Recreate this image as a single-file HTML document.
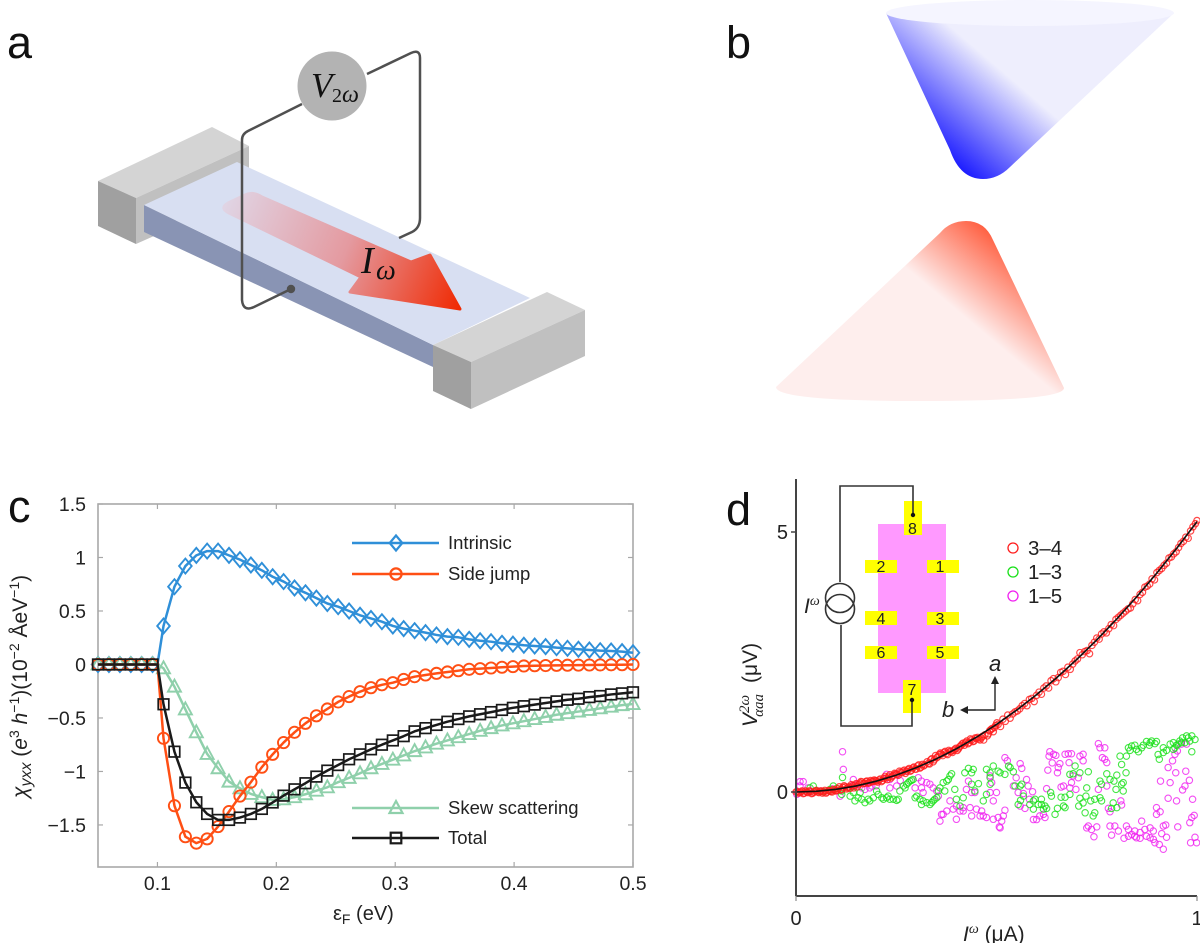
<!DOCTYPE html>
<html lang="en">
<head>
<meta charset="utf-8">
<title>Nonlinear Hall figure</title>
<style>
html,body{margin:0;padding:0;background:#fff;width:1200px;height:943px;overflow:hidden}
svg{display:block;font-family:"Liberation Sans",sans-serif}
</style>
</head>
<body>
<svg id="figure" xmlns="http://www.w3.org/2000/svg" width="1200" height="943" viewBox="0 0 1200 943">
<defs>
<linearGradient id="arrowGrad" gradientUnits="userSpaceOnUse" x1="225" y1="205" x2="463" y2="305">
<stop offset="0" stop-color="#e0d4e4"/><stop offset="0.5" stop-color="#e49aa0"/><stop offset="1" stop-color="#f02800"/>
</linearGradient>
<linearGradient id="blueGrad" gradientUnits="userSpaceOnUse" x1="970" y1="177" x2="1036" y2="100">
<stop offset="0" stop-color="#1e1eff"/><stop offset="1" stop-color="#eeeefd"/>
</linearGradient>
<linearGradient id="redGrad" gradientUnits="userSpaceOnUse" x1="987" y1="230" x2="935" y2="292">
<stop offset="0" stop-color="#ff6244"/><stop offset="1" stop-color="#feeeed"/>
</linearGradient>
</defs>

<!-- panel letters -->
<text x="7" y="58" font-size="45" fill="#111">a</text>
<text x="726" y="58" font-size="45" fill="#111">b</text>
<text x="8" y="522" font-size="45" fill="#111">c</text>
<text x="726" y="525" font-size="45" fill="#111">d</text>

<!-- panel a -->
<g>
<polygon points="98,181 212,127 249,146 136,198" fill="#d4d4d4"/>
<polygon points="98,181 136,198 136,244 98,226" fill="#a0a0a0"/>
<polygon points="136,198 249,146 249,170 154,236 136,244" fill="#c0c0c0"/>
<polygon points="144,205 433,345 433,367 144,232" fill="#8994b4"/>
<polygon points="144,205 237,162 530,298 433,345" fill="#d8dff2"/>
<path d="M262 197 Q253 191 245 195 L228 203 Q219 208 229 213 L361 277 L350 292 L460 309 L430 255 L411 262 Z" fill="url(#arrowGrad)" stroke="url(#arrowGrad)" stroke-width="3" stroke-linejoin="round"/>
<polygon points="433,345 547,292 585,310 471,362" fill="#d4d4d4"/>
<polygon points="433,345 471,362 471,409 433,391" fill="#a0a0a0"/>
<polygon points="471,362 585,310 585,356 471,409" fill="#c0c0c0"/>
<path d="M291 289 L254 307 Q243 312 242 300 L242 140 Q242 134 248 131 L302 104" fill="none" stroke="#505050" stroke-width="2.5"/>
<path d="M367 74 L411 53 Q420 49 420 58 L420 218 Q420 228 412 232 L399 238" fill="none" stroke="#505050" stroke-width="2.5"/>
<circle cx="291" cy="289" r="4.2" fill="#505050"/>
<circle cx="332" cy="86" r="34.5" fill="#b3b3b3"/>
<text font-family="Liberation Serif, serif" fill="#111"><tspan x="311" y="97" font-size="35" font-style="italic">V</tspan><tspan x="332" y="102" font-size="20">2</tspan><tspan font-size="24" font-style="italic" dy="0">ω</tspan></text>
<text font-family="Liberation Serif, serif" fill="#111"><tspan x="361" y="273" font-size="38" font-style="italic">I</tspan><tspan x="376" y="279" font-size="28" font-style="italic">ω</tspan></text>
</g>

<!-- panel b -->
<g>
<path d="M886 13 L950 150 Q960 179 983 179 Q998 179 1010 167 L1174 13 Z" fill="url(#blueGrad)"/>
<ellipse cx="1030" cy="13" rx="144" ry="13" fill="#f5f5ff"/>
<path d="M776 387 Q776 401 920 401 Q1064 401 1064 388 L993 240 Q985 221 966 221 Q950 221 940 233 Z" fill="url(#redGrad)"/>
</g>

<!-- panel c -->
<g id="chartC">
<rect x="98" y="504" width="535" height="363" fill="none" stroke="#a8a8a8" stroke-width="1.6"/>
<g id="cTicks"></g>
<g id="cSeries"></g>
<g id="cLegend"></g>
<text transform="translate(27,798) rotate(-90)" font-size="21" fill="#222"><tspan font-style="italic">χ</tspan><tspan font-style="italic" font-size="16" dy="4">yxx</tspan><tspan dy="-4"> (</tspan><tspan font-style="italic">e</tspan><tspan font-size="14" dy="-8">3</tspan><tspan dy="8"> </tspan><tspan font-style="italic">h</tspan><tspan font-size="14" dy="-8">−1</tspan><tspan dy="8">)(10</tspan><tspan font-size="14" dy="-8">−2</tspan><tspan dy="8"> ÅeV</tspan><tspan font-size="14" dy="-8">−1</tspan><tspan dy="8">)</tspan></text>
<text x="333" y="920" font-size="20" fill="#222"><tspan>ε</tspan><tspan font-size="14" dy="4">F</tspan><tspan dy="-4"> (eV)</tspan></text>
</g>

<!-- panel d -->
<g id="chartD">
<g id="dMarks"></g>
<path d="M796 479 V896" stroke="#444" stroke-width="2" fill="none"/>
<path d="M796 896 H1197" stroke="#444" stroke-width="2" fill="none"/>
<g id="dTicks"></g>
<text transform="translate(757,727) rotate(-90)" font-size="21" fill="#222"><tspan font-style="italic">V</tspan><tspan font-family="Liberation Serif, serif" font-style="italic" font-size="15" dy="-8">2ω</tspan><tspan font-family="Liberation Serif, serif" font-style="italic" font-size="15" dx="-22" dy="14">αaa</tspan><tspan dx="11" dy="-6">(μV)</tspan></text>
<text x="963" y="941" font-size="21" fill="#222"><tspan font-style="italic">I</tspan><tspan font-family="Liberation Serif, serif" font-style="italic" font-size="14" dy="-8">ω</tspan><tspan dy="8"> (μA)</tspan></text>

<g>
<rect x="878" y="524" width="68" height="169" fill="#ff99ff"/>
<rect x="904" y="501" width="18" height="34" fill="#ffff00"/>
<rect x="903" y="680" width="18" height="33" fill="#ffff00"/>
<rect x="865" y="560" width="32" height="13" fill="#ffff00"/>
<rect x="927" y="560" width="32" height="13" fill="#ffff00"/>
<rect x="865" y="611" width="32" height="14" fill="#ffff00"/>
<rect x="927" y="612" width="32" height="13" fill="#ffff00"/>
<rect x="865" y="646" width="32" height="13" fill="#ffff00"/>
<rect x="927" y="646" width="32" height="13" fill="#ffff00"/>
<g font-size="16" fill="#222" text-anchor="middle">
<text x="912.5" y="534">8</text>
<text x="912" y="695">7</text>
<text x="881" y="572">2</text>
<text x="940" y="572">1</text>
<text x="881" y="624">4</text>
<text x="940" y="624">3</text>
<text x="881" y="658">6</text>
<text x="940" y="658">5</text>
</g>
<path d="M840 582 V486 H913 V515" fill="none" stroke="#333" stroke-width="1.6"/>
<path d="M841 625 V726 H912 V700" fill="none" stroke="#333" stroke-width="1.6"/>
<circle cx="913" cy="515" r="2.2" fill="#111"/>
<circle cx="912" cy="700" r="2.2" fill="#111"/>
<circle cx="840" cy="598" r="14.5" fill="none" stroke="#333" stroke-width="1.6"/>
<circle cx="840" cy="609" r="14.5" fill="none" stroke="#333" stroke-width="1.6"/>
<text x="804" y="613" font-size="21" fill="#222"><tspan font-style="italic">I</tspan><tspan font-family="Liberation Serif, serif" font-style="italic" font-size="14" dy="-8">ω</tspan></text>
<path d="M995 681 V710 H965" fill="none" stroke="#222" stroke-width="1.4"/>
<polygon points="995,676 991,684 999,684" fill="#222"/>
<polygon points="960,710 968,706 968,714" fill="#222"/>
<text x="989" y="671" font-size="22" font-style="italic" fill="#222">a</text>
<text x="942" y="717" font-size="22" font-style="italic" fill="#222">b</text>
</g>
<g id="dLegend"></g>
</g>
</svg>
<script>
// ---- panel c data ----
const fermiEnergy = [.05,.0592,.0684,.0776,.0867,.0959,.1051,.1143,.1235,.1327,.1418,.1510,.1602,.1694,.1786,.1878,.1969,.2061,.2153,.2245,.2337,.2429,.2520,.2612,.2704,.2796,.2888,.2980,.3071,.3163,.3255,.3347,.3439,.3531,.3622,.3714,.3806,.3898,.3990,.4082,.4173,.4265,.4357,.4449,.4541,.4633,.4724,.4816,.4908,.5];
const gapEdge = [0.1, 0];
const intrinsic = [0,0,0,0,0,0,.36,.727,.92,1.02,1.06,1.06,1.02,.98,.93,.88,.82,.775,.715,.67,.62,.57,.54,.50,.46,.43,.40,.36,.335,.316,.298,.276,.26,.254,.235,.222,.213,.198,.19,.18,.173,.167,.157,.151,.142,.135,.129,.126,.12,.11];
const sideJump = [0,0,0,0,0,0,-.69,-1.32,-1.61,-1.67,-1.63,-1.515,-1.375,-1.23,-1.10,-.96,-.84,-.73,-.634,-.55,-.48,-.416,-.35,-.30,-.254,-.217,-.19,-.17,-.14,-.114,-.098,-.083,-.07,-.058,-.045,-.039,-.033,-.026,-.02,-.014,-.012,-.01,-.008,-.007,-.006,-.005,-.004,-.003,-.002,0];
const skewScattering = [0,0,0,0,0,0,-.036,-.207,-.42,-.634,-.836,-.97,-1.095,-1.157,-1.21,-1.24,-1.266,-1.26,-1.24,-1.213,-1.18,-1.148,-1.10,-1.06,-1.017,-.97,-.93,-.89,-.85,-.81,-.775,-.74,-.71,-.68,-.65,-.62,-.595,-.57,-.55,-.53,-.51,-.49,-.47,-.455,-.44,-.425,-.41,-.395,-.38,-.37];
const totalResponse = [0,0,0,0,0,0,-.372,-.815,-1.104,-1.288,-1.397,-1.453,-1.453,-1.431,-1.397,-1.35,-1.29,-1.226,-1.167,-1.11,-1.048,-.992,-.94,-.886,-.84,-.793,-.75,-.71,-.67,-.625,-.595,-.565,-.535,-.51,-.485,-.465,-.445,-.425,-.405,-.39,-.375,-.36,-.345,-.33,-.32,-.305,-.295,-.28,-.27,-.26];
const cXTicks = [0.1,0.2,0.3,0.4,0.5];
const cYTicks = [1.5,1,0.5,0,-0.5,-1,-1.5];
const cYLabels = ["1.5","1","0.5","0","−0.5","−1","−1.5"];
const cXDomain = [0.05,0.5];
const cYDomain = [-1.893,1.5];

// ---- panel d data ----
const dXTicks = [0,1];
const dYTicks = [0,5];
const dXDomain = [0,1];
const dYDomain = [-2,6];
const fitCurrent = [0,.05,.1,.15,.2,.25,.3,.35,.4,.45,.5,.55,.6,.65,.7,.75,.8,.85,.9,.95,1];
const fitVoltage = [0,.013,.052,.117,.208,.325,.468,.637,.832,1.053,1.3,1.573,1.872,2.197,2.548,2.925,3.328,3.757,4.212,4.693,5.2];
const pair15 = [[.116,.775],[.118,.435],[.01,.2],[.018,.2],[.01,.115],[.002,-.045],[.143,.24],[.143,.115],[.164,.08],[.172,.05],[.184,.08],[.189,.115],[.226,.34],[.234,.24],[.251,.34],[.276,.40],[.305,.275],[.313,.21],[.326,.18],[.334,.15],[.342,.08],[.351,.02],[.355,-.08],[.11,-.08],[.317,-.01],[.313,.08],[.297,.08],[.234,.08],[.251,.115],[.384,-.17],[.376,-.365],[.367,-.43],[.359,-.56],[.363,-.43],[.4,-.27],[.409,-.365],[.417,-.365],[.392,-.33],[.4,-.525],[.417,-.30],[.43,.21],[.425,.05],[.446,-.01],[.438,-.01],[.434,-.30],[.438,-.46],[.45,-.33],[.463,-.365],[.467,-.46],[.459,-.46],[.475,-.49],[.492,-.525],[.504,-.49],[.507,-.67],[.484,-.01],[.492,-.17],[.5,-.01],[.488,.18],[.484,.31],[.521,.66],[.527,.60],[.559,.545],[.563,.455],[.549,.275],[.542,.115],[.575,.24],[.579,.115],[.59,.006],[.567,-.03],[.554,-.01],[.582,-.14],[.571,-.315],[.559,-.27],[.521,-.35],[.517,-.46],[.513,-.56],[.509,-.69],[.592,-.53],[.6,-.53],[.608,-.46],[.621,-.49],[.617,-.43],[.633,.775],[.642,.725],[.648,.705],[.631,.69],[.639,.56],[.658,.545],[.654,.47],[.628,.42],[.652,.37],[.671,.725],[.679,.735],[.687,.735],[.681,.565],[.708,.69],[.716,.725],[.716,.60],[.754,.93],[.758,.85],[.77,.85],[.764,.66],[.775,.565],[.77,.63],[.667,.115],[.661,.095],[.683,.08],[.698,.05],[.704,.275],[.687,.18],[.691,.31],[.625,.064],[.754,.05],[.775,.115],[.81,-.17],[.812,-.25],[.779,-.315],[.783,-.38],[.729,-.655],[.737,-.72],[.725,-.69],[.75,-.67],[.743,-.86],[.783,-.655],[.795,-.655],[.787,-.83],[.804,-.75],[.824,-.655],[.829,-.72],[.845,-.75],[.858,-.78],[.87,-.72],[.818,-.89],[.829,-.85],[.837,-.815],[.849,-.88],[.858,-.89],[.845,-.85],[.874,-.85],[.883,-.88],[.895,-.975],[.891,-.91],[.906,-1.01],[.916,-1.10],[.912,-.80],[.924,-.87],[.916,-.655],[.922,-.635],[.899,-.30],[.899,-.43],[.908,-.38],[.862,-.56],[.952,-.67],[.928,-.12],[.949,-.17],[.989,-.14],[.964,.04],[.97,.115],[.981,.225],[.987,-.49],[.993,-.45],[.982,-.59],[.995,-.87],[.984,-.975],[.999,-.975],[.909,.21],[.933,.18],[.947,.37],[.972,.40],[.928,.47],[.939,.60],[.945,.725],[.951,.79],[.961,.92],[.974,.92],[.883,-.69],[.891,-.75],[.03,.08],[.06,.02],[.09,.06],[.2,.12],[.26,.22]];
const pair13 = [[.035,.08],[.043,.115],[.051,.02],[.068,.01],[.085,.05],[.093,.115],[.101,.07],[.114,.02],[.116,.28],[.114,-.045],[.143,-.01],[.147,-.17],[.155,-.11],[.16,-.01],[.172,-.205],[.184,-.17],[.193,-.11],[.201,.02],[.214,-.11],[.218,-.14],[.23,-.08],[.243,-.14],[.255,-.14],[.259,.02],[.268,.115],[.276,.15],[.284,.21],[.292,.24],[.297,-.11],[.309,-.14],[.313,-.24],[.326,-.205],[.334,-.24],[.342,-.17],[.351,-.11],[.355,.02],[.367,.18],[.376,.21],[.384,.31],[.388,.35],[.371,.02],[.396,.05],[.417,-.11],[.409,-.27],[.4,-.14],[.421,.37],[.43,.455],[.442,.435],[.438,.37],[.438,.15],[.446,.02],[.455,.16],[.467,-.17],[.475,.435],[.484,.37],[.492,.5],[.504,.40],[.484,.275],[.475,-.045],[.484,.15],[.135,-.08],[.164,-.14],[.18,-.14],[.205,-.045],[.226,-.11],[.234,-.14],[.251,-.16],[.272,.08],[.28,.18],[.288,.225],[.301,-.08],[.317,-.17],[.338,-.205],[.346,-.14],[.359,.08],[.38,.24],[.829,.85],[.837,.885],[.845,.90],[.833,.80],[.854,.775],[.862,.85],[.866,.90],[.874,.97],[.881,.90],[.887,.98],[.895,.93],[.899,.97],[.916,.76],[.924,.80],[.916,.85],[.933,.92],[.941,.95],[.949,.90],[.957,.98],[.964,1.04],[.97,.95],[.978,1.04],[.987,1.08],[.995,1.01],[.987,.775],[.906,.63],[.808,.69],[.824,.69],[.812,.53],[.823,.37],[.8,.325],[.775,.35],[.758,.21],[.783,.24],[.793,.21],[.816,.18],[.812,.15],[.798,.05],[.816,.02],[.762,.15],[.758,-.11],[.762,-.17],[.745,-.14],[.725,.08],[.723,-.08],[.708,-.12],[.705,-.27],[.716,-.21],[.735,-.17],[.791,-.21],[.8,-.30],[.787,-.315],[.721,-.40],[.745,-.40],[.741,-.46],[.671,-.10],[.661,-.10],[.683,-.045],[.635,-.01],[.637,-.08],[.671,-.30],[.667,-.27],[.652,-.315],[.646,-.43],[.625,-.315],[.612,-.14],[.612,-.24],[.621,-.27],[.596,-.14],[.604,-.24],[.592,-.33],[.56,-.16],[.554,-.24],[.567,-.08],[.559,.115],[.546,.115],[.563,.15],[.521,.34],[.509,.37],[.53,.50],[.534,.47],[.542,.39],[.683,.34],[.696,.50],[.708,.37],[.729,.39],[.691,.35],[.849,.82],[.883,.95],[.945,.85],[.953,.92],[.961,.95],[.974,1.08],[.982,.98],[.941,.82],[.903,.72],[.583,-.24],[.592,-.17],[.617,-.33]];
const pair34 = [[0,0],[.006,-.02],[.012,0],[.018,-.03],[.024,.02],[.03,-.01],[.036,.01],[.042,-.02],[.048,.02],[.054,0],[.06,.01],[.066,-.02],[.072,.03],[.078,0],[.084,.02],[.09,0],[.096,.04],[.102,.03],[.108,.1],[.114,.05],[.12,.12],[.126,.06],[.132,.1],[.138,.14],[.144,.08],[.15,.16],[.156,.14],[.162,.2],[.168,.16],[.174,.2],[.18,.17],[.186,.22],[.192,.2],[.198,.22],[.204,.19],[.21,.25],[.216,.22],[.222,.3],[.228,.24],[.234,.33],[.24,.3],[.246,.36],[.252,.34],[.258,.4],[.264,.37],[.27,.42],[.276,.4],[.282,.45],[.288,.42],[.294,.48],[.3,.44],[.306,.52],[.312,.48],[.318,.5],[.33,.55],[.336,.62],[.342,.58],[.348,.7],[.354,.68],[.36,.75],[.366,.7],[.372,.78],[.378,.72],[.384,.78],[.39,.76],[.396,.82],[.402,.8],[.408,.87],[.414,.92],[.42,.9],[.426,.98],[.432,.95],[.438,1],[.444,.98],[.45,1.03],[.456,1.02],[.462,1.04],[.468,1],[.48,1.12],[.486,1.2],[.492,1.16],[.498,1.28],[.504,1.3],[.51,1.26],[.516,1.4],[.522,1.36],[.528,1.48],[.534,1.42],[.54,1.5],[.546,1.54],[.552,1.56],[.558,1.6],[.564,1.66],[.57,1.7],[.576,1.66],[.582,1.78],[.588,1.8],[.594,1.74],[.6,1.86],[.606,1.92],[.612,1.88],[.618,2],[.624,2.04],[.63,2],[.636,2.14],[.642,2.18],[.648,2.12],[.654,2.2],[.66,2.3],[.666,2.32],[.672,2.26],[.678,2.4],[.684,2.36],[.69,2.46],[.696,2.52],[.702,2.56],[.708,2.68],[.714,2.64],[.72,2.7],[.726,2.72],[.732,2.66],[.738,2.82],[.744,2.88],[.75,2.96],[.756,2.94],[.762,3.04],[.768,3.08],[.774,3.06],[.78,3.14],[.786,3.22],[.792,3.2],[.798,3.32],[.804,3.36],[.81,3.4],[.816,3.44],[.822,3.48],[.828,3.52],[.834,3.54],[.84,3.62],[.846,3.7],[.852,3.68],[.858,3.8],[.864,3.84],[.87,3.94],[.876,3.96],[.882,4],[.888,4.1],[.894,4.08],[.9,4.22],[.906,4.26],[.912,4.3],[.918,4.36],[.924,4.4],[.93,4.5],[.936,4.52],[.942,4.58],[.948,4.62],[.954,4.7],[.96,4.78],[.966,4.82],[.972,4.9],[.978,4.88],[.984,5.02],[.99,5.1],[.996,5.16],[1,5.22],
[.003,.01],[.009,-.01],[.015,.02],[.021,-.02],[.027,0],[.033,.02],[.039,-.03],[.045,0],[.051,.03],[.057,-.01],[.063,.02],[.069,0],[.075,-.02],[.081,.03],[.087,.01],[.093,.05],[.099,.02],[.105,.06],[.111,.04],[.117,.09],[.123,.1],[.129,.08],[.135,.07],[.141,.12],[.147,.13],[.153,.1],[.159,.17],[.165,.19],[.171,.17],[.177,.21],[.183,.18],[.189,.2],[.195,.23],[.201,.21],[.207,.23],[.213,.2],[.219,.26],[.225,.27],[.231,.29],[.237,.27],[.243,.32],[.249,.35],[.255,.32],[.261,.38],[.267,.4],[.273,.36],[.279,.43],[.285,.4],[.291,.46],[.297,.44],[.303,.5],[.309,.46],[.315,.53],[.321,.52],[.327,.58],[.333,.54],[.339,.64],[.345,.62],[.351,.66],[.357,.72],[.363,.73],[.369,.76],[.375,.74],[.381,.8],[.387,.78],[.393,.8],[.399,.84],[.405,.83],[.411,.89],[.417,.94],[.423,.95],[.429,.93],[.435,1.02],[.441,.97],[.447,1.04],[.453,1.05],[.459,1],[.465,1.07],[.471,1.1],[.477,1.08],[.483,1.18],[.489,1.22],[.495,1.24],[.501,1.33]];

const NS = 'http://www.w3.org/2000/svg';
function make(parent, tag, attrs, text) {
  const el = document.createElementNS(NS, tag);
  for (const k in attrs) el.setAttribute(k, attrs[k]);
  if (text !== undefined) el.textContent = text;
  parent.appendChild(el);
  return el;
}
function scale(domain, a, b) {
  return v => a + (v - domain[0]) / (domain[1] - domain[0]) * (b - a);
}
const cX = scale(cXDomain, 98, 633);
const cY = scale(cYDomain, 867, 504);
const dX = scale(dXDomain, 796, 1197);
const dY = scale(dYDomain, 896, 480);

function drawMarker(g, shape, x, y, color, sw) {
  if (shape === 'diamond') return make(g, 'polygon', {points: `${x},${y-7.5} ${x+6.3},${y} ${x},${y+7.5} ${x-6.3},${y}`, fill:'none', stroke:color, 'stroke-width':sw});
  if (shape === 'circle') return make(g, 'circle', {cx:x, cy:y, r:5.6, fill:'none', stroke:color, 'stroke-width':sw});
  if (shape === 'triangle') return make(g, 'polygon', {points: `${x},${y-7} ${x+6.5},${y+5} ${x-6.5},${y+5}`, fill:'none', stroke:color, 'stroke-width':sw});
  return make(g, 'rect', {x:x-5.3, y:y-5.3, width:10.6, height:10.6, fill:'none', stroke:color, 'stroke-width':sw});
}

// axes panel c
const cAxes = document.getElementById('cTicks');
cXTicks.forEach((t, i) => {
  const x = cX(t);
  const tb = make(cAxes, 'line', {x1:x, x2:x, y1:867, y2:862, stroke:'#a8a8a8', 'stroke-width':1.2});
  
  
  const tt = make(cAxes, 'line', {x1:x, x2:x, y1:504, y2:509, stroke:'#a8a8a8', 'stroke-width':1.2});
  
  
  const lb = make(cAxes, 'text', {x:x, y:890, 'font-size':19.5, fill:'#222', 'text-anchor':'middle'}, t.toFixed(1));
  
  
});
cYTicks.forEach((t, i) => {
  const y = cY(t);
  const tl = make(cAxes, 'line', {x1:98, x2:103, y1:y, y2:y, stroke:'#a8a8a8', 'stroke-width':1.2});
  
  
  const tr = make(cAxes, 'line', {x1:633, x2:628, y1:y, y2:y, stroke:'#a8a8a8', 'stroke-width':1.2});
  
  
  const lb = make(cAxes, 'text', {x:86, y:y+7, 'font-size':19.5, fill:'#222', 'text-anchor':'end'}, cYLabels[i]);
  
  
});

// series panel c
const cRoot = document.getElementById('cSeries');
function drawSeries(name, values, color, shape, lw, mw) {
  const g = make(cRoot, 'g', {});
  
  
  let d = '';
  values.forEach((v, i) => {
    if (i > 0 && fermiEnergy[i-1] < gapEdge[0] && fermiEnergy[i] > gapEdge[0]) d += `L${cX(gapEdge[0])} ${cY(gapEdge[1])}`;
    d += (i === 0 ? 'M' : 'L') + cX(fermiEnergy[i]) + ' ' + cY(v);
  });
  const line = make(g, 'path', {d:d, fill:'none', stroke:color, 'stroke-width':lw, 'stroke-linejoin':'round'});
  
  
  values.forEach((v, i) => {
    const m = drawMarker(g, shape, cX(fermiEnergy[i]), cY(v), color, mw);
    
    
  });
}
drawSeries('intrinsic', intrinsic, '#2f8fd8', 'diamond', 2.5, 1.9);
drawSeries('skew-scattering', skewScattering, '#8fd0ab', 'triangle', 2.5, 1.9);
drawSeries('side-jump', sideJump, '#ff4f14', 'circle', 2.5, 1.9);
drawSeries('total', totalResponse, '#1a1a1a', 'square', 2.5, 1.7);

// legend panel c
const cLegendRows = [['Intrinsic','#2f8fd8','diamond',543],['Side jump','#ff4f14','circle',574],['Skew scattering','#8fd0ab','triangle',808],['Total','#1a1a1a','square',838]];
const cLeg = document.getElementById('cLegend');
cLegendRows.forEach(r => {
  const ln = make(cLeg, 'line', {x1:352, x2:439, y1:r[3], y2:r[3], stroke:r[1], 'stroke-width':2.5});
  
  
  const mk = drawMarker(cLeg, r[2], 396, r[3], r[1], 2.2);
  
  
  const tx = make(cLeg, 'text', {x:448, y:r[3]+6, 'font-size':18.5, fill:'#222'}, r[0]);
  
  
});

// panel d marks
const dRoot = document.getElementById('dMarks');
function drawScatter(name, pts, color, sw) {
  const g = make(dRoot, 'g', {});
  
  
  pts.forEach(p => {
    const c = make(g, 'circle', {cx:dX(p[0]), cy:dY(p[1]), r:3.2, fill:'none', stroke:color, 'stroke-width':sw, 'stroke-opacity':.8});
    
    
  });
}
drawScatter('pair-1-5', pair15, '#f020f0', 1.1);
drawScatter('pair-1-3', pair13, '#18e018', 1.1);
drawScatter('pair-3-4', pair34, '#ff1c1c', 1.2);
const fit = make(dRoot, 'path', {d: fitCurrent.map((x, i) => (i ? 'L' : 'M') + dX(x) + ' ' + dY(fitVoltage[i])).join(''), fill:'none', stroke:'#111', 'stroke-width':1.6});



// panel d ticks
const dT = document.getElementById('dTicks');
dYTicks.forEach(t => {
  const y = dY(t);
  const l = make(dT, 'line', {x1:791, x2:796, y1:y, y2:y, stroke:'#444', 'stroke-width':1.5});
  
  
  const tx = make(dT, 'text', {x:788, y:y+7, 'font-size':20, fill:'#222', 'text-anchor':'end'}, String(t));
  
  
});
dXTicks.forEach(t => {
  const x = dX(t);
  const l = make(dT, 'line', {x1:x, x2:x, y1:896, y2:901, stroke:'#888', 'stroke-width':1.2});
  
  
  const tx = make(dT, 'text', {x:x, y:925, 'font-size':20, fill:'#222', 'text-anchor':'middle'}, String(t));
  
  
});

// panel d legend
const dLegendRows = [['3–4','#ff1c1c',548],['1–3','#18e018',572],['1–5','#f020f0',596]];
const dLeg = document.getElementById('dLegend');
dLegendRows.forEach(r => {
  const c = make(dLeg, 'circle', {cx:1013, cy:r[2], r:5, fill:'none', stroke:r[1], 'stroke-width':1.3});
  
  
  const t = make(dLeg, 'text', {x:1028, y:r[2]+7, 'font-size':20.5, fill:'#222'}, r[0]);
  
  
});
</script>
</body>
</html>
